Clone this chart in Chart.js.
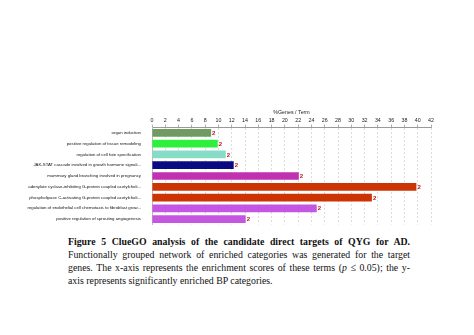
<!DOCTYPE html>
<html>
<head>
<meta charset="utf-8">
<script src="https://cdn.jsdelivr.net/npm/chart.js@4"></script>
<style>
    html, body { margin: 0; padding: 0; background: #fff; }
    body { width: 474px; height: 335px; position: relative; overflow: hidden; }
    #chartWrap { position: absolute; left: 0; top: 0; width: 474px; height: 230px; }
    .caption {
        position: absolute;
        left: 68px;
        top: 235px;
        width: 390px;
        transform: scaleX(0.877);
        transform-origin: 0 0;
        font-family: "Liberation Serif", "Times New Roman", serif;
        font-size: 11.2px;
        line-height: 13px;
        color: #111;
    }
    .caption span { display: block; white-space: nowrap; text-align: justify; text-align-last: justify; }
    .caption span.last { text-align-last: left; }
</style>
</head>
<body>
<div id="chartWrap"><canvas id="goChart" width="474" height="230"></canvas></div>
<div class="caption">
    <span><b>Figure 5 ClueGO analysis of the candidate direct targets of QYG for AD.</b></span>
    <span>Functionally grouped network of enriched categories was generated for the target</span>
    <span>genes. The x-axis represents the enrichment scores of these terms (<i>p</i> ≤ 0.05); the y-</span>
    <span class="last">axis represents significantly enriched BP categories.</span>
</div>
<script>
// GO biological process terms, top to bottom
const TERMS = [
    'organ induction',
    'positive regulation of tissue remodeling',
    'regulation of cell fate specification',
    'JAK-STAT cascade involved in growth hormone signali...',
    'mammary gland branching involved in pregnancy',
    'adenylate cyclase-inhibiting G-protein coupled acetylcholi...',
    'phospholipase C-activating G-protein coupled acetylcholi...',
    'regulation of endothelial cell chemotaxis to fibroblast grow...',
    'positive regulation of sprouting angiogenesis'
];
// % genes / term
const PCT_GENES = [8.9, 9.9, 11.1, 12.3, 22.1, 39.8, 33.1, 24.8, 14.1];
// number of genes found per term
const GENE_COUNTS = [2, 2, 2, 2, 2, 2, 2, 2, 2];
const BAR_COLORS = ['#6f9a60', '#2cf03c', '#86dcc6', '#0a0a82', '#c032b2', '#cc3404', '#cc3404', '#c456e2', '#c456e2'];

const X_MAX = 42;
const SMALL_FONT = '"Liberation Sans Narrow", "Liberation Sans", sans-serif';

// draws the gene count just right of each bar
const countLabels = {
    id: 'countLabels',
    afterDatasetsDraw(chart) {
        const { ctx, scales: { x, y } } = chart;
        ctx.save();
        ctx.fillStyle = '#b81818';
        ctx.font = 'bold 6px ' + SMALL_FONT;
        ctx.textBaseline = 'middle';
        PCT_GENES.forEach((v, i) => {
            ctx.fillText(String(GENE_COUNTS[i]), x.getPixelForValue(v) + 1, y.getPixelForValue(i) + 0.5);
        });
        ctx.restore();
    }
};

const ctx = document.getElementById('goChart').getContext('2d');
new Chart(ctx, {
    type: 'bar',
    data: {
        labels: TERMS,
        datasets: [{
            data: PCT_GENES,
            backgroundColor: BAR_COLORS,
            borderWidth: 0,
            barPercentage: 0.72,
            categoryPercentage: 1.0
        }]
    },
    options: {
        indexAxis: 'y',
        responsive: false,
        animation: false,
        devicePixelRatio: 1,
        layout: { padding: { left: 0, top: 109, right: 43, bottom: 5.6 } },
        plugins: {
            legend: { display: false },
            tooltip: { enabled: false }
        },
        scales: {
            x: {
                position: 'top',
                min: 0,
                max: X_MAX,
                afterFit: (scale) => { scale.height = 18.6; },
                ticks: {
                    stepSize: 2,
                    autoSkip: false,
                    maxRotation: 0,
                    padding: 1,
                    color: '#222',
                    font: { family: SMALL_FONT, size: 5.3 }
                },
                title: {
                    display: true,
                    text: '%Genes / Term',
                    color: '#222',
                    padding: { top: 0, bottom: 0 },
                    font: { family: SMALL_FONT, size: 5.3 }
                },
                grid: {
                    color: '#d4d4d4',
                    lineWidth: 0.8,
                    tickLength: 3,
                    tickColor: '#999'
                },
                border: { display: true, color: '#999', width: 1, dash: [2, 2] }
            },
            y: {
                afterFit: (scale) => { scale.width = 152; },
                ticks: {
                    autoSkip: false,
                    padding: 3,
                    color: '#111',
                    font: { family: SMALL_FONT, size: 4.3 }
                },
                grid: { display: false },
                border: { display: true, color: '#bbb', width: 1 }
            }
        }
    },
    plugins: [countLabels]
});
</script>
</body>
</html>
